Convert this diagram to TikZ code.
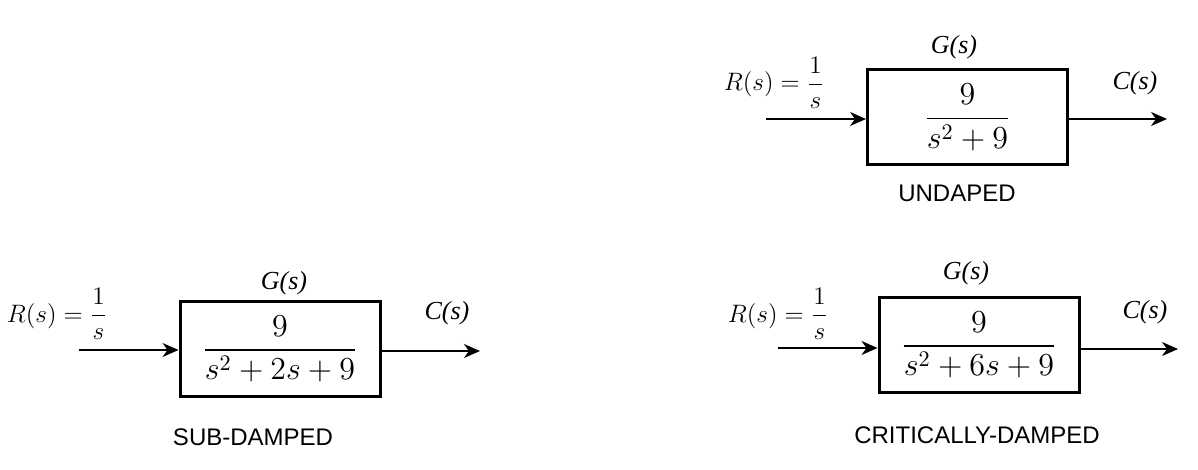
\documentclass[tikz,border=0pt]{standalone}
\usepackage{fontspec}
\usepackage{amsmath}
\usepackage{graphicx}
\newfontfamily\capfont{Liberation Sans}
\newfontfamily\sigfont{Liberation Serif}
\usetikzlibrary{arrows.meta, positioning}

\newcommand{\blockfrac}[1]{\scalebox{1.11}{$\dfrac{9}{#1}$}}
\newcommand{\inputexpr}{\scalebox{1.05}{$R(s)=\dfrac{1}{s}$}}

\tikzset{
    tfblock/.style={draw, line width=1.5pt, minimum width=100pt, minimum height=47.5pt, inner sep=0pt,
        font=\fontsize{14.4}{17}\selectfont},
    sig/.style={-{Stealth[length=8pt, width=7pt, inset=2.5pt]}, line width=0.8pt},
    siglabel/.style={font=\fontsize{13}{15}\selectfont\sigfont\itshape},
    inlabel/.style={font=\fontsize{12}{14}\selectfont},
    caption/.style={font=\fontsize{12}{14}\selectfont\capfont}
}

\begin{document}
\begin{tikzpicture}[x=0.5pt, y=-0.5pt]
    \useasboundingbox (0,0) rectangle (1198,470);

    % undamped
    \node (box1) [tfblock] at (967.5,117.5) {\blockfrac{s^2+9}};
    \coordinate (in1) at (766,119);
    \coordinate (out1) at (1167,119);
    \draw[sig] (in1) -- (box1.west |- in1);
    \draw[sig] (box1.east |- out1) -- (out1);
    \node (g1) [siglabel] at (954,47) {G(s)};
    \node (r1) [inlabel] at (774,83) {\inputexpr};
    \node (c1) [siglabel] at (1135,83) {C(s)};
    \node (cap1) [caption] at (957,193) {UNDAPED};

    % sub-damped
    \node (box2) [tfblock] at (280,349) {\blockfrac{s^2+2s+9}};
    \coordinate (in2) at (79,350);
    \coordinate (out2) at (480,351);
    \draw[sig] (in2) -- (box2.west |- in2);
    \draw[sig] (box2.east |- out2) -- (out2);
    \node (g2) [siglabel] at (284,283) {G(s)};
    \node (r2) [inlabel] at (57,314) {\inputexpr};
    \node (c2) [siglabel] at (447,313) {C(s)};
    \node (cap2) [caption] at (253,437) {SUB-DAMPED};

    % critically damped
    \node (box3) [tfblock] at (979,345) {\blockfrac{s^2+6s+9}};
    \coordinate (in3) at (778,348);
    \coordinate (out3) at (1178,349);
    \draw[sig] (in3) -- (box3.west |- in3);
    \draw[sig] (box3.east |- out3) -- (out3);
    \node (g3) [siglabel] at (966,273) {G(s)};
    \node (r3) [inlabel] at (778,314) {\inputexpr};
    \node (c3) [siglabel] at (1145,312) {C(s)};
    \node (cap3) [caption] at (977,435) {CRITICALLY-DAMPED};
\end{tikzpicture}
\end{document}
